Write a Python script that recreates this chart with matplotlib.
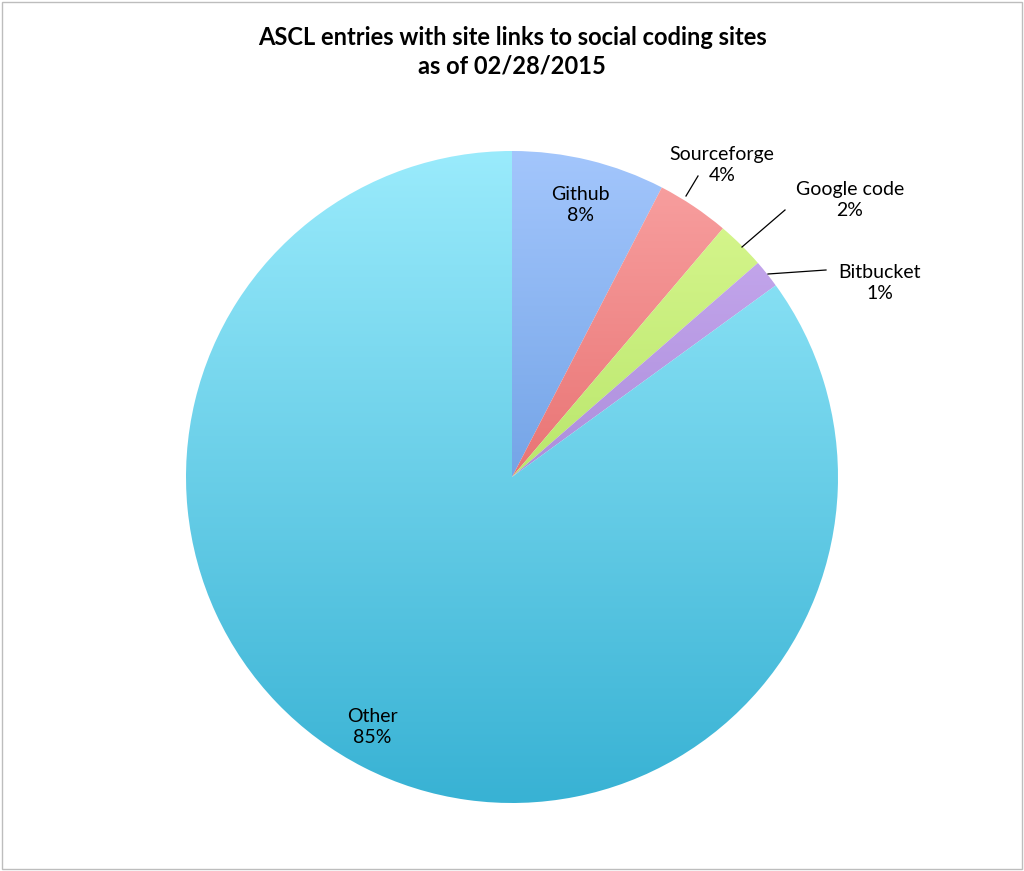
import matplotlib
matplotlib.use("Agg")
import matplotlib.pyplot as plt
import numpy as np
from matplotlib.colors import LinearSegmentedColormap

categories = ["Github", "Sourceforge", "Google code", "Bitbucket", "Other"]
values = [7.6, 3.6, 2.4, 1.4, 85.0]
pct_labels = ["8%", "4%", "2%", "1%", "85%"]
top_colors = ["#a3c6fc", "#f9a3a3", "#dcf994", "#cdb0f2", "#9aebfc"]
bot_colors = ["#4683d2", "#d94545", "#97d445", "#8c6cc6", "#38b2d4"]

plt.rcParams['font.family'] = ['Lato', 'DejaVu Sans']
fig = plt.figure(figsize=(10.24, 8.71), dpi=100)
ax = fig.add_axes([0, 0, 1, 1])
ax.set_xlim(0, 1024); ax.set_ylim(0, 871); ax.set_aspect('equal'); ax.axis('off')
H = 871
cx, cy, R = 512, H - 477, 326
wedges, _ = ax.pie(values, center=(cx, cy), radius=R, startangle=90,
                   counterclock=False, frame=True,
                   wedgeprops=dict(linewidth=0, edgecolor='none'))
ax.set_xlim(0, 1024); ax.set_ylim(0, 871); ax.axis('off')
grad = np.linspace(1, 0, 256).reshape(-1, 1)
for w, tc, bc in zip(wedges, top_colors, bot_colors):
    w.set_facecolor('none')
    cmap = LinearSegmentedColormap.from_list('g', [bc, tc])
    im = ax.imshow(grad[::-1], cmap=cmap, extent=(cx - R, cx + R, cy - R, cy + R),
                   origin='lower', aspect='auto', zorder=1)
    im.set_clip_path(w)

ax.add_patch(plt.Rectangle((2, 2), 1020, 867, fill=False, ec='#bdbdbd', lw=1))
ax.text(512, H - 52, "ASCL entries with site links to social coding sites\nas of 02/28/2015",
        ha='center', va='center', fontsize=17, fontweight='bold', linespacing=1.3)

fs = 14
pos = [(580, 205), (722, 165), (850, 200), (880, 283), (372, 727)]
for (x, y), c, p in zip(pos, categories, pct_labels):
    ax.text(x, H - y, f"{c}\n{p}", ha='center', va='center', fontsize=fs, linespacing=1.3, zorder=3)
for (x1, y1, x2, y2) in [(698, 176, 686, 196), (785, 210, 742, 247), (826, 270, 768, 274)]:
    ax.plot([x1, x2], [H - y1, H - y2], color='black', lw=0.9, zorder=3)

fig.savefig("out.png", dpi=100)
